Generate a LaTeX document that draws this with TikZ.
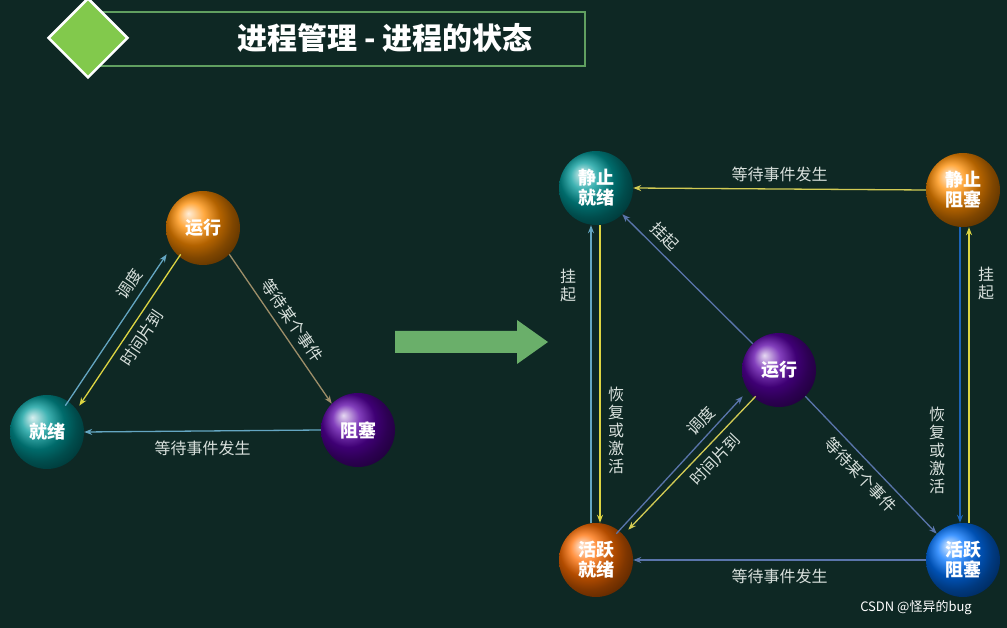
\documentclass[tikz,border=0pt]{standalone}
\usepackage{fontspec}
\setmainfont{Noto Sans CJK SC}
\usetikzlibrary{shapes.geometric,arrows.meta}
\definecolor{bg}{HTML}{0E2824}
\definecolor{lbl}{HTML}{D8E0DC}
\tikzset{
 st/.style={circle,minimum size=74pt,inner sep=0pt,shading=ball,text=white,font=\bfseries\fontsize{18}{20}\selectfont,align=center},
 lk/.style={-{Stealth[length=8pt,width=6pt]},line width=1.3pt},
 tl/.style={text=lbl,font=\fontsize{16}{18}\selectfont,sloped},
 vl/.style={text=lbl,font=\fontsize{16}{18}\selectfont,align=center},
}
\begin{document}
\begin{tikzpicture}[x=1pt,y=-1pt]
\fill[bg] (0,0) rectangle (1007,628);
\useasboundingbox (0,0) rectangle (1007,628);
% title
\draw[color=green!25!gray,line width=1.5pt] (100,12) rectangle (585,66);
\node[diamond,fill=green!40!olive!70!white,draw=white,line width=2.5pt,minimum size=80pt,inner sep=0pt] (dia) at (88,38) {};
\node[text=white,font=\bfseries\fontsize{30}{32}\selectfont] (title) at (385,38) {进程管理 - 进程的状态};
% left
\node[st,ball color=orange!90!yellow] (r1) at (203,228) {运行};
\node[st,ball color=teal!80!cyan] (j1) at (47,432) {就绪};
\node[st,ball color=violet!70!blue] (z1) at (358,430) {阻塞};
\draw[lk,color=cyan!50!gray] ([xshift=-8pt]j1.north east) -- node[tl,above=3pt,pos=0.75]{调度} ([xshift=-10pt]r1.south west);
\draw[lk,color=yellow!70!gray] ([xshift=4pt]r1.south west) -- node[tl,below=3pt]{时间片到} ([xshift=6pt]j1.north east);
\draw[lk,color=yellow!60!blue] (r1.south east) -- node[tl,above=3pt]{等待某个事件} (z1.north west);
\draw[lk,color=cyan!50!gray] (z1.west) -- node[tl,below=6pt]{等待事件发生} (j1.east);
% big arrow
\coordinate (a0) at (395,342);
\fill[green!30!gray!90!white] (a0) ++(0,-11) -- ++(122,0) -- ++(0,-11) -- ++(31,22) -- ++(-31,22) -- ++(0,-11) -- ++(-122,0) -- cycle;
% right
\node[st,ball color=teal!80!cyan] (jj) at (596,188) {静止\\就绪};
\node[st,ball color=orange!90!yellow] (jz) at (963,190) {静止\\阻塞};
\node[st,ball color=violet!70!blue] (r2) at (779,370) {运行};
\node[st,ball color=orange!85!red] (hj) at (596,560) {活跃\\就绪};
\node[st,ball color=blue!55!cyan] (hz) at (963,560) {活跃\\阻塞};
\draw[lk,color=yellow!60!gray] (jz.west) -- node[tl,above=3pt]{等待事件发生} (jj.east);
\draw[lk,color=cyan!40!blue!60!gray] (r2.north west) -- node[tl,above=3pt,pos=0.75]{挂起} (jj.south east);
\draw[lk,color=cyan!50!gray] ([xshift=-5pt]hj.north) -- ([xshift=-5pt]jj.south);
\node[vl] (l1) at (568,285) {挂\\起};
\draw[lk,color=yellow!70!gray] ([xshift=4pt]jj.south) -- ([xshift=4pt]hj.north);
\node[vl] (l2) at (616,430) {恢\\复\\或\\激\\活};
\draw[lk,color=cyan!40!blue] ([xshift=-3pt]jz.south) -- ([xshift=-3pt]hz.north);
\node[vl] (l3) at (937,450) {恢\\复\\或\\激\\活};
\draw[lk,color=yellow!70!gray] ([xshift=6pt]hz.north) -- ([xshift=6pt]jz.south);
\node[vl] (l4) at (986,283) {挂\\起};
\draw[lk,color=cyan!40!blue!60!gray] ([xshift=-6pt]hj.north east) -- node[tl,above=3pt,pos=0.75]{调度} ([xshift=-10pt]r2.south west);
\draw[lk,color=yellow!60!gray] ([xshift=3pt]r2.south west) -- node[tl,below=3pt,pos=0.4]{时间片到} ([xshift=6pt,yshift=4pt]hj.north east);
\draw[lk,color=cyan!40!blue!60!gray] (r2.south east) -- node[tl,below=3pt]{等待某个事件} (hz.north west);
\draw[lk,color=cyan!40!blue!60!gray] (hz.west) -- node[tl,below=5pt]{等待事件发生} (hj.east);
\node[text=white,font=\fontsize{13}{15}\selectfont] (wm) at (916,608) {CSDN @怪异的bug};
\end{tikzpicture}
\end{document}
